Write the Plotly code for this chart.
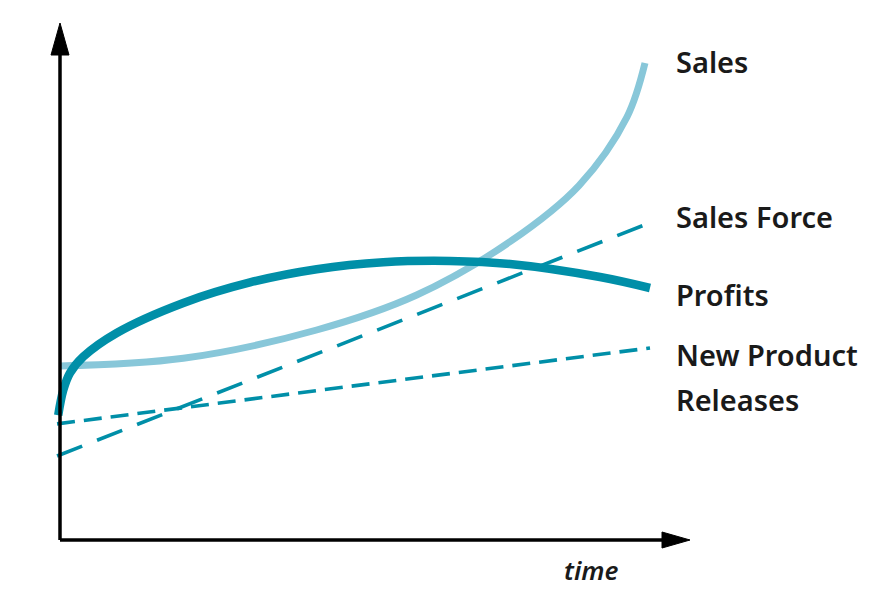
import plotly.graph_objects as go

# values: time 0..100, value 0..100
sales_t = [0, 20.9, 43.5, 60.46, 76.27, 88.0, 96.1, 99.15]
sales_v = [36.25, 37.85, 43.75, 51.04, 62.15, 73.9, 88.13, 99.38]

profits_t = [-0.3, 0.56, 1.69, 3.95, 9.61, 20.9, 32.2, 43.5, 54.8, 66.1, 76.27, 91.53, 100]
profits_v = [26.0, 31.25, 34.79, 38.19, 43.13, 49.38, 53.65, 56.4, 57.85, 58.13, 57.5, 54.79, 52.5]

force_t = [-0.5, 100]
force_v = [17.5, 66.1]

releases_t = [-0.5, 100]
releases_v = [24.2, 40.0]

labels = ["Sales", "Sales Force", "Profits", "New Product", "Releases"]
label_v = [99.6, 67.5, 51.25, 38.75, 29.2]

DARK = "#008FA8"
LIGHT = "#88C7D9"
INK = "#1a1a1a"

# scale: 5.9 px per time unit, 4.8 px per value unit, origin at page pixel (60, 540);
# the page body has an 8px margin, so the figure starts at (8, 8)
W, H = 863, 587
OFF = 8
x_range = [(OFF - 60) / 5.9, (OFF + W - 60) / 5.9]
y_range = [(540 - OFF - H) / 4.8, (540 - OFF) / 4.8]

fig = go.Figure()

fig.add_trace(go.Scatter(x=releases_t, y=releases_v, mode="lines",
                         line=dict(color=DARK, width=3.6, dash="18px,9px")))
fig.add_trace(go.Scatter(x=force_t, y=force_v, mode="lines",
                         line=dict(color=DARK, width=3.6, dash="27px,16px")))
fig.add_trace(go.Scatter(x=sales_t, y=sales_v, mode="lines",
                         line=dict(color=LIGHT, width=7, shape="spline", smoothing=1)))
fig.add_trace(go.Scatter(x=profits_t, y=profits_v, mode="lines",
                         line=dict(color=DARK, width=8.5, shape="spline", smoothing=1)))

# axes with arrow heads
y_tip = (540 - 23) / 4.8
y_base = (540 - 55) / 4.8
x_tip = (690 - 60) / 5.9
x_base = (662 - 60) / 5.9
fig.add_shape(type="line", x0=0, y0=0, x1=0, y1=y_base, xref="x", yref="y",
              line=dict(color="black", width=3.5), layer="above")
fig.add_shape(type="line", x0=0, y0=0, x1=x_base, y1=0, xref="x", yref="y",
              line=dict(color="black", width=3.5), layer="above")
hw = 9 / 5.9
fig.add_shape(type="path", xref="x", yref="y", layer="above",
              path=f"M {-hw} {y_base} L {hw} {y_base} L 0 {y_tip} Z",
              fillcolor="black", line=dict(color="black", width=1))
hh = 8 / 4.8
fig.add_shape(type="path", xref="x", yref="y", layer="above",
              path=f"M {x_base} {-hh} L {x_base} {hh} L {x_tip} 0 Z",
              fillcolor="black", line=dict(color="black", width=1))

label_x = (674 - 60) / 5.9
for text, v in zip(labels, label_v):
    fig.add_annotation(x=label_x, y=v, xref="x", yref="y", text=text,
                       showarrow=False, xanchor="left", yanchor="middle",
                       font=dict(family="Noto Sans", size=29, color=INK, weight=600))

fig.add_annotation(x=(591 - 60) / 5.9, y=(540 - 570) / 4.8, xref="x", yref="y",
                   text="<i>time</i>", showarrow=False, xanchor="center", yanchor="middle",
                   font=dict(family="Noto Sans", size=26, color=INK, weight=600))

fig.update_layout(
    width=W, height=H,
    margin=dict(l=0, r=0, t=0, b=0),
    paper_bgcolor="white", plot_bgcolor="white",
    showlegend=False,
    xaxis=dict(range=x_range, visible=False, fixedrange=True),
    yaxis=dict(range=y_range, visible=False, fixedrange=True),
)

fig.write_html("out.html")
